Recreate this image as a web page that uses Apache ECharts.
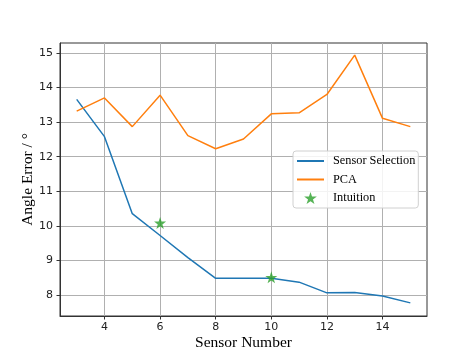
<!DOCTYPE html>
<html><head><meta charset="utf-8">
<script src="https://cdn.jsdelivr.net/npm/echarts@6/dist/echarts.min.js"></script>
<style>html,body{margin:0;padding:0;background:#fff}#c{width:474px;height:355px}</style>
</head><body><div id="c"></div>
<script>
const sensorNumbers = [3,4,5,6,7,8,9,10,11,12,13,14,15];
const sensorSelection = [13.66,12.58,10.35,9.72,9.08,8.48,8.48,8.48,8.37,8.06,8.07,7.97,7.77];
const pca = [13.32,13.70,12.87,13.78,12.61,12.23,12.51,13.24,13.27,13.80,14.94,13.11,12.87];
const intuitionX = [6,10];
const intuitionY = [10.08,8.51];
const xTicks = [4,6,8,10,12,14];
const yTicks = [8,9,10,11,12,13,14,15];

const star = 'path://M50,0 L61.8,35.4 L99,35.4 L69,57.3 L80.4,92.7 L50,70.8 L19.6,92.7 L31,57.3 L1,35.4 L38.2,35.4 Z';
const serif = '"Liberation Serif","DejaVu Serif",serif';
const sans = '"DejaVu Sans",sans-serif';

const chart = echarts.init(document.getElementById('c'), null, {renderer:'canvas'});
chart.setOption({
  animation:false,
  grid:{left:60,right:47,top:43,bottom:39,show:true,borderColor:'#333',borderWidth:1,containLabel:false,outerBoundsMode:'none'},
  xAxis:{type:'value',min:2.4,max:15.6,
    name:'Sensor Number',nameLocation:'middle',nameGap:19,nameMoveOverlap:false,
    nameTextStyle:{fontFamily:serif,fontSize:15.5,color:'#000'},
    axisLine:{onZero:false,lineStyle:{color:'#333',width:1}},
    axisTick:{show:true,length:3.5,customValues:xTicks,lineStyle:{color:'#333'}},
    axisLabel:{customValues:xTicks,margin:6,fontFamily:sans,fontSize:11,color:'#222'},
    splitLine:{show:true,lineStyle:{color:'#b0b0b0',width:1}}},
  yAxis:{type:'value',min:7.39,max:15.29,
    name:'Angle Error / °',nameLocation:'middle',nameGap:24,nameMoveOverlap:false,
    nameTextStyle:{fontFamily:serif,fontSize:15.5,color:'#000'},
    axisLine:{show:true,onZero:false,lineStyle:{color:'#333',width:1}},
    axisTick:{show:true,length:3.5,customValues:yTicks,lineStyle:{color:'#333'}},
    axisLabel:{customValues:yTicks,margin:7,fontFamily:sans,fontSize:11,color:'#222'},
    splitLine:{show:true,lineStyle:{color:'#b0b0b0',width:1}}},
  legend:{left:293,top:151,orient:'vertical',itemWidth:27,itemHeight:12,itemGap:6.5,
    padding:[4,3,4,3],
    backgroundColor:'rgba(255,255,255,0.85)',borderColor:'#d0d0d0',borderWidth:1,borderRadius:3,
    textStyle:{fontFamily:serif,fontSize:12.3,color:'#000',padding:[0,0,0,4]},
    data:[{name:'Sensor Selection',itemStyle:{opacity:0}},{name:'PCA',itemStyle:{opacity:0}},{name:'Intuition',icon:star}]},
  series:[
    {name:'Sensor Selection',type:'line',data:sensorNumbers.map((x,i)=>[x,sensorSelection[i]]),
     symbol:'none',lineStyle:{color:'#1f77b4',width:1.5},itemStyle:{color:'#1f77b4'}},
    {name:'PCA',type:'line',data:sensorNumbers.map((x,i)=>[x,pca[i]]),
     symbol:'none',lineStyle:{color:'#ff7f0e',width:1.5},itemStyle:{color:'#ff7f0e'}},
    {name:'Intuition',type:'scatter',data:intuitionX.map((x,i)=>[x,intuitionY[i]]),
     symbol:star,symbolSize:12,itemStyle:{color:'#2ca02c'},z:5}
  ]
});
</script></body></html>
